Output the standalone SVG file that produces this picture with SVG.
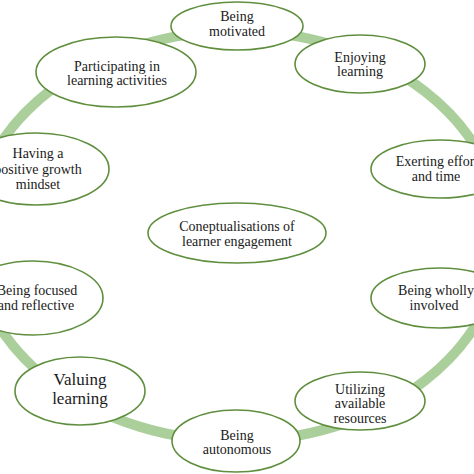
<svg xmlns="http://www.w3.org/2000/svg" width="474" height="474" viewBox="0 0 474 474">
<style>
.n ellipse{fill:#fff;stroke:#5f8f3e;stroke-width:1.6}
text{font-family:"Liberation Serif","Times New Roman",serif;font-size:14px;fill:#1a1a1a;text-anchor:middle}
.big{font-size:17px}
</style>
<rect width="474" height="474" fill="#fff"/>
<g id="connectors">
<ellipse cx="237" cy="236" rx="265" ry="205" fill="none" stroke="#abcf9a" stroke-width="10"/>
</g>
<g id="n-center" class="n"><ellipse cx="237" cy="233" rx="89" ry="30"/><text x="237" y="231">Coneptualisations of</text><text x="237" y="246">learner engagement</text></g>
<g id="n-motivated" class="n"><ellipse cx="237" cy="26" rx="66" ry="24"/><text x="237" y="21">Being</text><text x="237" y="36">motivated</text></g>
<g id="n-enjoying" class="n"><ellipse cx="360" cy="64" rx="65" ry="29"/><text x="360" y="62">Enjoying</text><text x="360" y="76">learning</text></g>
<g id="n-participating" class="n"><ellipse cx="116" cy="72" rx="80" ry="35"/><text x="117" y="71">Participating in</text><text x="117" y="85">learning activities</text></g>
<g id="n-growth" class="n"><ellipse cx="36" cy="169" rx="73" ry="36"/><text x="38" y="158">Having a</text><text x="38" y="174">positive growth</text><text x="38" y="189">mindset</text></g>
<g id="n-exerting" class="n"><ellipse cx="440" cy="169" rx="69" ry="29"/><text x="437" y="166">Exerting effort</text><text x="436" y="181">and time</text></g>
<g id="n-focused" class="n"><ellipse cx="33" cy="298" rx="70" ry="37"/><text x="37" y="295">Being focused</text><text x="36" y="310">and reflective</text></g>
<g id="n-wholly" class="n"><ellipse cx="440" cy="298" rx="69" ry="30"/><text x="436" y="295">Being wholly</text><text x="434" y="310">involved</text></g>
<g id="n-valuing" class="n"><ellipse cx="80" cy="391" rx="65" ry="34"/><text class="big" x="80" y="385">Valuing</text><text class="big" x="80" y="404">learning</text></g>
<g id="n-utilizing" class="n"><ellipse cx="360" cy="401" rx="65" ry="29"/><text x="360" y="394">Utilizing</text><text x="360" y="408">available</text><text x="360" y="423">resources</text></g>
<g id="n-autonomous" class="n"><ellipse cx="236" cy="441" rx="64" ry="31"/><text x="237" y="440">Being</text><text x="237" y="454">autonomous</text></g>
</svg>
